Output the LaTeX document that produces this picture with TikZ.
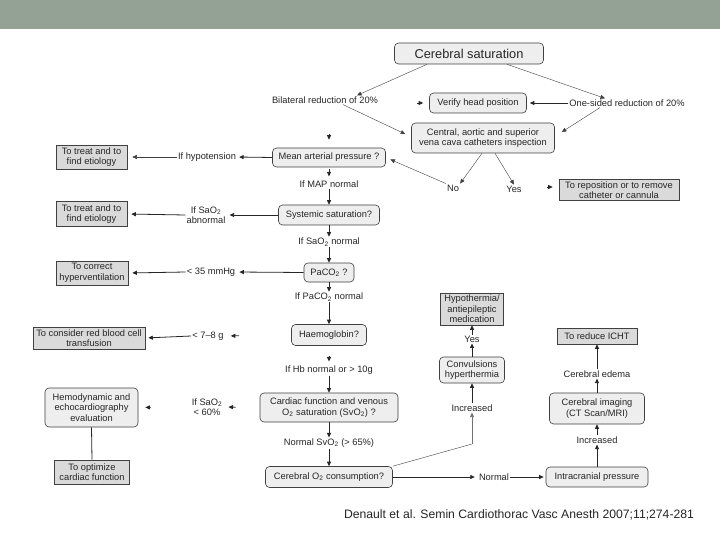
\documentclass[tikz,border=0pt]{standalone}
\usepackage{fontspec}
\setmainfont{Liberation Sans}
\usetikzlibrary{arrows.meta}
\definecolor{barcol}{HTML}{94A296}
\definecolor{qfill}{HTML}{EEEEEE}
\definecolor{afill}{HTML}{DADADA}
\begin{document}
\begin{tikzpicture}[x=1pt, y=-1pt,
		txt/.style={font=\fontsize{9.3}{10.5}\selectfont, text=black!85, align=center, inner sep=1pt},
		qbox/.style={txt, draw=black!75, fill=qfill, rounded corners=4pt, line width=0.6pt},
		abox/.style={txt, draw=black!75, fill=afill, line width=0.6pt},
		arr/.style={-{Triangle[length=4.5pt,width=4pt]}, black!85, line width=0.8pt},
		tarr/.style={-{Triangle[length=4.5pt,width=4pt]}, black!75, line width=0.4pt}]
		\useasboundingbox (0,0) rectangle (720,540);
		\fill[white] (0,0) rectangle (720,540);
		\fill[barcol] (0,0) rectangle (720,29);
		\node[qbox, minimum width=149pt, minimum height=21pt, font=\fontsize{12.8}{14}\selectfont] (sat) at (469,53.5) {Cerebral saturation};
		\node[txt] (bil) at (325,100) {Bilateral reduction of 20\%};
		\node[txt] (one) at (627,103) {One-sided reduction of 20\%};
		\node[qbox, minimum width=97pt, minimum height=20pt] (verify) at (478,103) {Verify head position};
		\node[qbox, minimum width=143pt, minimum height=30pt] (cath) at (483,138) {Central, aortic and superior\\vena cava catheters inspection};
		\node[txt] (no) at (453,188) {No};
		\node[txt] (yes) at (514,189) {Yes};
		\node[abox, minimum width=120pt, minimum height=21pt] (repos) at (619,190) {To reposition or to remove\\catheter or cannula};
		\node[qbox, minimum width=113pt, minimum height=19pt] (map) at (329,157.5) {Mean arterial pressure ?};
		\node[txt] (hypo) at (207,157) {If hypotension};
		\node[abox, minimum width=71pt, minimum height=24pt] (treat1) at (91.5,157) {To treat and to\\find etiology};
		\node[txt] (mapok) at (329,184) {If MAP normal};
		\node[qbox, minimum width=101pt, minimum height=20pt] (sys) at (329,215) {Systemic saturation?};
		\node[txt] (saab) at (206,215) {If SaO\textsubscript{2}\\abnormal};
		\node[abox, minimum width=71pt, minimum height=25pt] (treat2) at (91.5,214) {To treat and to\\find etiology};
		\node[txt] (saok) at (329,242) {If SaO\textsubscript{2} normal};
		\node[qbox, minimum width=50pt, minimum height=19pt] (paco) at (329,272.5) {PaCO\textsubscript{2} ?};
		\node[txt] (low) at (211,272) {< 35 mmHg};
		\node[abox, minimum width=72pt, minimum height=24pt] (hyper) at (92,273) {To correct\\hyperventilation};
		\node[txt] (pacook) at (329,297) {If PaCO\textsubscript{2} normal};
		\node[qbox, minimum width=75pt, minimum height=21pt] (hb) at (329,335) {Haemoglobin?};
		\node[txt] (hblow) at (208,336) {< 7--8 g};
		\node[abox, minimum width=112pt, minimum height=22pt] (transf) at (89,338) {To consider red blood cell\\transfusion};
		\node[txt] (hbok) at (329,370) {If Hb normal or > 10g};
		\node[qbox, minimum width=138pt, minimum height=29pt] (card) at (329,407.5) {Cardiac function and venous\\O\textsubscript{2} saturation (SvO\textsubscript{2}) ?};
		\node[txt] (svlow) at (207,407) {If SaO\textsubscript{2}\\< 60\%};
		\node[qbox, minimum width=93pt, minimum height=39pt] (hemo) at (91.5,407.5) {Hemodynamic and\\echocardiography\\evaluation};
		\node[abox, minimum width=75pt, minimum height=24pt] (optim) at (92,472) {To optimize\\cardiac function};
		\node[txt] (svok) at (329,443) {Normal SvO\textsubscript{2} (> 65\%)};
		\node[qbox, minimum width=127pt, minimum height=21pt] (cons) at (329,477) {Cerebral O\textsubscript{2} consumption?};
		\node[txt] (norm) at (494,477) {Normal};
		\node[qbox, minimum width=102pt, minimum height=20pt] (icp) at (597,477) {Intracranial pressure};
		\node[txt] (incicp) at (597,440) {Increased};
		\node[qbox, minimum width=95pt, minimum height=31pt] (img) at (597,408.5) {Cerebral imaging\\(CT Scan/MRI)};
		\node[txt] (edema) at (597,374) {Cerebral edema};
		\node[abox, minimum width=80pt, minimum height=16pt] (icht) at (597,336) {To reduce ICHT};
		\node[txt] (inccons) at (472,408) {Increased};
		\node[qbox, minimum width=65pt, minimum height=26pt] (conv) at (472,370) {Convulsions\\hyperthermia};
		\node[txt] (yes2) at (472,339) {Yes};
		\node[abox, minimum width=63pt, minimum height=32pt] (hypoth) at (472,309) {Hypothermia/\\antiepileptic\\medication};
		\node[font=\fontsize{12.2}{14}\selectfont, text=black!85] (source) at (519,515) {Denault et al. Semin Cardiothorac Vasc Anesth 2007;11;274-281};
		\draw[tarr] ([xshift=-42pt]sat.south) -- ([xshift=32pt]bil.north);
		\draw[tarr] ([xshift=38pt]sat.south) -- ([xshift=-22pt]one.north);
		\draw[tarr] ([xshift=18pt]bil.south) -- ([xshift=-6pt,yshift=4pt]cath.west);
		\draw[tarr] ([xshift=-27pt]one.south) -- ([xshift=7pt,yshift=6pt]cath.east);
		\draw[arr, shorten >=3pt] (one.west) -- (verify.east);
		\draw[arr] ([xshift=-12pt]verify.west) -- ([xshift=-6pt]verify.west);
		\draw[tarr] ([xshift=-1pt]cath.south) -- (no.north east);
		\draw[tarr] ([xshift=12pt]cath.south) -- (yes.north);
		\draw[tarr, shorten >=5pt] (no.north west) -- (map.east);
		\draw[arr] ([xshift=-12pt,yshift=3pt]repos.west) -- ([xshift=-6pt,yshift=3pt]repos.west);
		\draw[arr] ([yshift=14pt]map.north) -- ([yshift=8pt]map.north);
		\draw[arr, shorten >=2pt] (map.west) -- (hypo.east);
		\draw[tarr, shorten >=5pt] (hypo.west) -- (treat1.east);
		\draw[arr, shorten <=2pt, shorten >=3pt] (map.south) -- (mapok.north);
		\draw[arr] (mapok.south) -- (sys.north);
		\draw[arr, shorten >=3pt] (sys.west) -- (saab.east);
		\draw[arr, shorten >=4pt] (saab.west) -- (treat2.east);
		\draw[arr] (sys.south) -- (saok.north);
		\draw[arr] (saok.south) -- (paco.north);
		\draw[arr, shorten >=3pt] (paco.west) -- (low.east);
		\draw[arr, shorten >=4pt] (low.west) -- (hyper.east);
		\draw[arr] (paco.south) -- (pacook.north);
		\draw[arr] (pacook.south) -- (hb.north);
		\draw[arr, shorten <=52pt, shorten >=6pt] (hb.west) -- (hblow.east);
		\draw[arr, shorten >=3pt] (hblow.west) -- (transf.east);
		\draw[arr, shorten <=10pt, shorten >=3pt] (hb.south) -- (hbok.north);
		\draw[arr] (hbok.south) -- (card.north);
		\draw[arr, shorten <=24pt, shorten >=5pt] (card.west) -- (svlow.east);
		\draw[arr, shorten <=40pt, shorten >=7pt] (svlow.west) -- (hemo.east);
		\draw[black!85, line width=0.8pt] (hemo.south) -- (optim.north);
		\draw[arr] (card.south) -- (svok.north);
		\draw[arr] (svok.south) -- (cons.north);
		\draw[arr, shorten >=3pt] (cons.east) -- (norm.west);
		\draw[arr, shorten >=2pt] (norm.east) -- (icp.west);
		\coordinate (bend) at (472,444);
		\draw[black!75, line width=0.4pt] (cons.north east) -- (bend);
		\draw[arr, black!55] (bend) -- (inccons.south);
		\draw[arr] (inccons.north) -- (conv.south);
		\draw[arr] (conv.north) -- (yes2.south);
		\draw[arr] (yes2.north) -- (hypoth.south);
		\draw[arr] (icp.north) -- (incicp.south);
		\draw[arr] (incicp.north) -- (img.south);
		\draw[arr] (img.north) -- (edema.south);
		\draw[arr] (edema.north) -- (icht.south);
	\end{tikzpicture}
\end{document}
